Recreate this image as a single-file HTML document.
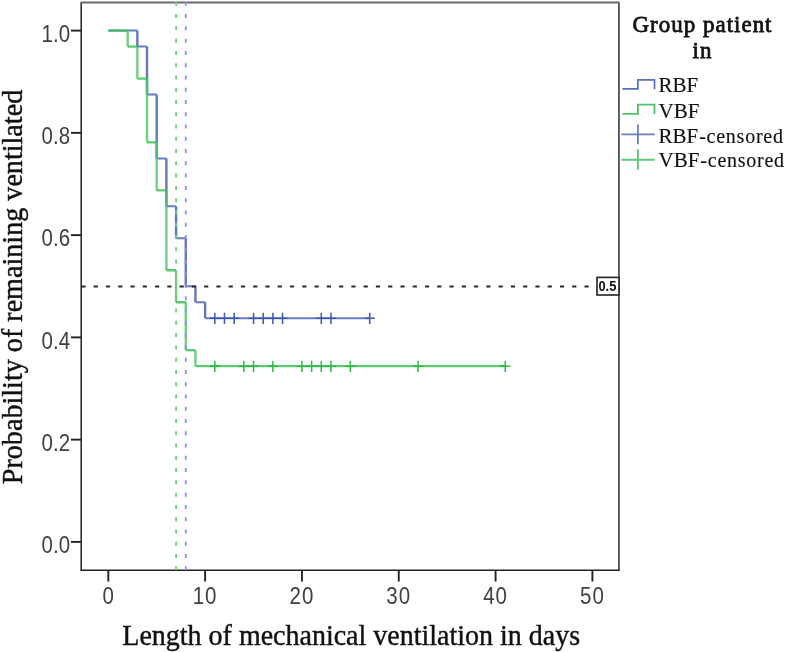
<!DOCTYPE html>
<html><head><meta charset="utf-8"><style>
html,body{margin:0;padding:0;background:#fff;}
svg{display:block;}
.tk{font-family:"Liberation Sans",sans-serif;font-size:20.5px;fill:#404040;}
.ref{font-family:"Liberation Sans",sans-serif;font-size:14px;font-weight:bold;fill:#111;}
.lt{font-family:"Liberation Serif",serif;font-size:23px;fill:#111;stroke:#111;stroke-width:0.75px;letter-spacing:1px;}
.lg{font-family:"Liberation Serif",serif;font-size:21px;fill:#111;stroke:#111;stroke-width:0.15px;}
.cs{font-size:20px;letter-spacing:0.75px;}
.at{font-family:"Liberation Serif",serif;font-size:28px;fill:#111;stroke:#111;stroke-width:0.4px;}
</style></head><body>
<svg width="785" height="652" viewBox="0 0 785 652">
<path d="M81.2,570.3V2.6" stroke="#222" stroke-width="1.5" fill="none"/>
<path d="M80.45,570.3H619.7" stroke="#222" stroke-width="1.5" fill="none"/>
<path d="M618.95,570.3V2.6" stroke="#2a2a2a" stroke-width="1.5" fill="none"/>
<path d="M80.45,2.5H619.7" stroke="#6a6a6a" stroke-width="2" fill="none"/>
<path d="M71,541.90H81.2" stroke="#222" stroke-width="1.9"/>
<text transform="translate(70.1,553.20) scale(1,1.18)" text-anchor="end" class="tk">0.0</text>
<path d="M71,439.64H81.2" stroke="#222" stroke-width="1.9"/>
<text transform="translate(70.1,450.94) scale(1,1.18)" text-anchor="end" class="tk">0.2</text>
<path d="M71,337.38H81.2" stroke="#222" stroke-width="1.9"/>
<text transform="translate(70.1,348.68) scale(1,1.18)" text-anchor="end" class="tk">0.4</text>
<path d="M71,235.12H81.2" stroke="#222" stroke-width="1.9"/>
<text transform="translate(70.1,246.42) scale(1,1.18)" text-anchor="end" class="tk">0.6</text>
<path d="M71,132.86H81.2" stroke="#222" stroke-width="1.9"/>
<text transform="translate(70.1,144.16) scale(1,1.18)" text-anchor="end" class="tk">0.8</text>
<path d="M71,30.60H81.2" stroke="#222" stroke-width="1.9"/>
<text transform="translate(70.1,41.90) scale(1,1.18)" text-anchor="end" class="tk">1.0</text>
<path d="M108.30,570.3V581.5" stroke="#222" stroke-width="1.9"/>
<text transform="translate(108.30,604.1) scale(1,1.155)" text-anchor="middle" class="tk">0</text>
<path d="M205.12,570.3V581.5" stroke="#222" stroke-width="1.9"/>
<text transform="translate(205.12,604.1) scale(1,1.155)" text-anchor="middle" class="tk" letter-spacing="1">10</text>
<path d="M301.94,570.3V581.5" stroke="#222" stroke-width="1.9"/>
<text transform="translate(301.94,604.1) scale(1,1.155)" text-anchor="middle" class="tk" letter-spacing="1">20</text>
<path d="M398.76,570.3V581.5" stroke="#222" stroke-width="1.9"/>
<text transform="translate(398.76,604.1) scale(1,1.155)" text-anchor="middle" class="tk" letter-spacing="1">30</text>
<path d="M495.58,570.3V581.5" stroke="#222" stroke-width="1.9"/>
<text transform="translate(495.58,604.1) scale(1,1.155)" text-anchor="middle" class="tk" letter-spacing="1">40</text>
<path d="M592.40,570.3V581.5" stroke="#222" stroke-width="1.9"/>
<text transform="translate(592.40,604.1) scale(1,1.155)" text-anchor="middle" class="tk" letter-spacing="1">50</text>
<path d="M137.35,30.60V46.58M147.03,46.58V94.51M156.71,94.51V158.42M166.39,158.42V206.36M176.07,206.36V238.32M185.76,238.32V286.25M195.44,286.25V302.23M205.12,302.23V318.21" stroke="#6378bc" stroke-width="2.4" fill="none"/>
<path d="M108.30,30.60H137.35M137.35,46.58H147.03M147.03,94.51H156.71M156.71,158.42H166.39M166.39,206.36H176.07M176.07,238.32H185.76M185.76,286.25H195.44M195.44,302.23H205.12M205.12,318.21H369.71" stroke="#697dbf" stroke-width="2.0" fill="none"/>
<path d="M214.80,312.81V324.11M209.80,318.21H219.80M224.48,312.81V324.11M219.48,318.21H229.48M234.17,312.81V324.11M229.17,318.21H239.17M253.53,312.81V324.11M248.53,318.21H258.53M263.21,312.81V324.11M258.21,318.21H268.21M272.89,312.81V324.11M267.89,318.21H277.89M282.58,312.81V324.11M277.58,318.21H287.58M321.30,312.81V324.11M316.30,318.21H326.30M330.99,312.81V324.11M325.99,318.21H335.99M369.71,312.81V324.11M364.71,318.21H374.71" stroke="#3e58ac" stroke-width="1.5" fill="none"/>
<path d="M127.66,30.60V46.58M137.35,46.58V78.53M147.03,78.53V142.45M156.71,142.45V190.38M166.39,190.38V270.27M176.07,270.27V302.23M185.76,302.23V350.16M195.44,350.16V366.14" stroke="#4ec464" stroke-opacity="0.8" stroke-width="2.4" fill="none"/>
<path d="M108.30,30.60H127.66M127.66,46.58H137.35M137.35,78.53H147.03M147.03,142.45H156.71M156.71,190.38H166.39M166.39,270.27H176.07M176.07,302.23H185.76M185.76,350.16H195.44M195.44,366.14H505.26" stroke="#42be5a" stroke-opacity="0.85" stroke-width="2.3" fill="none"/>
<path d="M214.80,360.74V372.04M209.80,366.14H219.80M243.85,360.74V372.04M238.85,366.14H248.85M253.53,360.74V372.04M248.53,366.14H258.53M272.89,360.74V372.04M267.89,366.14H277.89M301.94,360.74V372.04M296.94,366.14H306.94M311.62,360.74V372.04M306.62,366.14H316.62M321.30,360.74V372.04M316.30,366.14H326.30M330.99,360.74V372.04M325.99,366.14H335.99M350.35,360.74V372.04M345.35,366.14H355.35M418.12,360.74V372.04M413.12,366.14H423.12M505.26,360.74V372.04M500.26,366.14H510.26" stroke="#2eb848" stroke-width="1.5" fill="none"/>
<path d="M176.07,1.83V570.3" stroke="#6ccc80" stroke-width="1.8" stroke-dasharray="4 8.27" fill="none"/>
<path d="M185.76,1.83V570.3" stroke="#8c8cff" stroke-width="1.8" stroke-dasharray="4 8.27" fill="none"/>
<path d="M81.4,286.6H618.95" stroke="#2a2a2a" stroke-width="2" stroke-dasharray="4.2 8.07" fill="none"/>
<rect x="597" y="277.4" width="22" height="17.6" fill="#fff" stroke="#222" stroke-width="1.6"/>
<text transform="translate(607.4,291.3) scale(0.92,1.08)" text-anchor="middle" class="ref">0.5</text>
<text transform="translate(702.5,32.1) scale(1,1.035)" text-anchor="middle" class="lt">Group patient</text>
<text transform="translate(702.5,57.6) scale(1,1.035)" text-anchor="middle" class="lt">in</text>
<path d="M622.4,88.9H637.9V79.8H654.5V89.2" stroke="#5a6fb8" stroke-width="1.7" fill="none"/>
<text x="658.5" y="92.4" class="lg">RBF</text>
<path d="M622.4,113.8H637.9V104.7H654.5V114" stroke="#52c468" stroke-width="1.8" fill="none"/>
<text x="658.5" y="117.9" class="lg">VBF</text>
<path d="M621.4,134.4H654.7M637.9,124.5V144.2" stroke="#6a7ec0" stroke-width="1.8" fill="none"/>
<text x="658.5" y="142.9" class="lg">RBF<tspan class="cs" dx="1">-censored</tspan></text>
<path d="M621.4,159.7H654.7M637.9,149.3V169.7" stroke="#62c976" stroke-width="1.9" fill="none"/>
<text x="658.5" y="167.1" class="lg">VBF<tspan class="cs" dx="1">-censored</tspan></text>
<text transform="translate(122.3,644.9) scale(1,1.07)" class="at">Length of mechanical ventilation in days</text>
<text transform="translate(22.3,484.2) rotate(-90) scale(1.005,1.07)" class="at">Probability of remaining ventilated</text>
</svg>
</body></html>
